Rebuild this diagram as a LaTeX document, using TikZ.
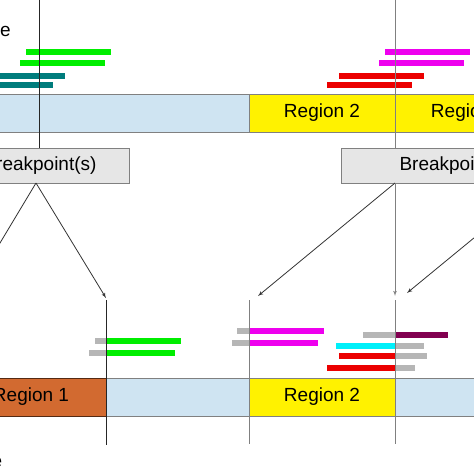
\documentclass[tikz,border=0pt]{standalone}
\usepackage{fontspec}
\setmainfont{Liberation Sans}
\usetikzlibrary{positioning}
\usetikzlibrary{shapes,arrows}
\definecolor{bandblue}{RGB}{207,228,242}
\definecolor{regionbrown}{RGB}{210,106,48}
\definecolor{readgreen}{RGB}{0,238,0}
\definecolor{readteal}{RGB}{0,124,124}
\definecolor{readmagenta}{RGB}{238,0,238}
\definecolor{readred}{RGB}{235,0,0}
\definecolor{readcyan}{RGB}{0,240,250}
\definecolor{readpurple}{RGB}{130,0,80}
\definecolor{readgray}{RGB}{182,182,182}
\definecolor{boxgray}{RGB}{230,230,230}
\tikzset{
block/.style = {draw=gray, rectangle, inner sep=0pt, outer sep=0pt, minimum height=38pt, font=\fontsize{19}{22}\selectfont},
bpblock/.style = {draw=gray, fill=boxgray, rectangle, inner sep=0pt, outer sep=0pt, minimum height=35pt, font=\fontsize{19}{22}\selectfont},
tmp/.style = {coordinate},
link/.style = {draw=black!80, line width=0.8pt, ->}
}

\begin{document}
\begin{tikzpicture}[x=1pt, y=-1pt, >=latex']
    \path [use as bounding box, clip] (0,0) rectangle (474,474);

    % We start by placing the two bands of regions
    \node [block, fill=bandblue, anchor=north west, minimum width=260pt] (topA) at (-11,94) {};
    \node [block, fill=yellow, minimum width=146pt, right=0pt of topA] (topB) {Region 2};
    \node [block, fill=yellow, minimum width=148pt, right=0pt of topB] (topC) {Region 3};

    \node [block, fill=regionbrown, draw=black!60!regionbrown, anchor=north west, minimum width=150pt] (botA) at (-44,378) {Region 1};
    \node [block, fill=bandblue, minimum width=143pt, right=0pt of botA] (botB) {};
    \node [block, fill=yellow, minimum width=146pt, right=0pt of botB] (botC) {Region 2};
    \node [block, fill=bandblue, minimum width=85pt, right=0pt of botC] (botD) {};

    \node [anchor=base east, inner sep=0pt, font=\fontsize{19}{22}\selectfont] (lblTop) at (11,36) {e};
    \node [anchor=base east, inner sep=0pt, font=\fontsize{19}{22}\selectfont] (lblBot) at (2.5,467) {e};

    % reads above the top band
    \foreach \xa/\xb/\ya in {26/111/49, 20/105/60}
        \fill [readgreen] (\xa,\ya) rectangle (\xb,\ya+5.5);
    \foreach \xa/\xb/\ya in {-5/65/73, -5/53/82}
        \fill [readteal] (\xa,\ya) rectangle (\xb,\ya+5.5);
    \foreach \xa/\xb/\ya in {385/470/49, 379/464/60}
        \fill [readmagenta] (\xa,\ya) rectangle (\xb,\ya+5.5);
    \foreach \xa/\xb/\ya in {339/424/73, 327/412/82}
        \fill [readred] (\xa,\ya) rectangle (\xb,\ya+5.5);

    % split reads above the bottom band
    \foreach \xa/\xm/\xb/\ya in {95/106/181/338, 89/106/175/350} {
        \fill [readgray] (\xa,\ya) rectangle (\xm,\ya+6);
        \fill [readgreen] (\xm,\ya) rectangle (\xb,\ya+6);
    }
    \foreach \xa/\xm/\xb/\ya in {237/249/324/328, 232/249/318/340} {
        \fill [readgray] (\xa,\ya) rectangle (\xm,\ya+6);
        \fill [readmagenta] (\xm,\ya) rectangle (\xb,\ya+6);
    }
    \fill [readgray] (363,332) rectangle (395,338);
    \fill [readpurple] (395,332) rectangle (448,338);
    \fill [readcyan] (336,343) rectangle (395,349);
    \fill [readgray] (395,343) rectangle (424,349);
    \foreach \xa/\xb/\ya in {339/427/353, 327/415/365} {
        \fill [readred] (\xa,\ya) rectangle (395,\ya+6);
        \fill [readgray] (395,\ya) rectangle (\xb,\ya+6);
    }

    % breakpoint boxes
    \node [bpblock, minimum width=178pt] (bpL) at (40,165.5) {Breakpoint(s)};
    \node [bpblock, minimum width=230pt] (bpR) at (456,165.5) {Breakpoint(s)};

    % cut lines
    \node [tmp] (cL) at (39,-5) {};
    \node [tmp] (cR) at (395,-5) {};
    \draw [black!85, line width=0.8pt] (cL) -- (cL |- bpL.north);
    \draw [gray, line width=0.8pt] (cR) -- (cR |- bpR.north);

    \node [tmp] (dA) at (106,300) {};
    \node [tmp] (dB) at (249,300) {};
    \node [tmp] (dC) at (395,300) {};
    \draw [black!85, line width=0.8pt] (dA) -- ++(0,145);
    \draw [gray, line width=0.8pt] (dB) -- ++(0,144);
    \draw [gray, line width=0.8pt] (dC) -- ++(0,144);

    % arrows from the breakpoints to the cuts
    \node [tmp] (sL) at (36,183) {};
    \node [tmp] (sR) at (bpR.south -| cR) {};
    \node [tmp] (tOut) at (-18,273) {};
    \node [tmp] (tA) at (106,298) {};
    \node [tmp] (tB) at (258,296) {};
    \node [tmp] (tC) at (395,296) {};
    \node [tmp] (tD) at (407,293) {};
    \node [tmp] (sOut) at (514,205) {};

    \draw [link] (sL) -- (tOut);
    \draw [link] (sL) -- (tA);
    \draw [link] (sR) -- (tB);
    \draw [link, draw=gray] (sR) -- (tC);
    \draw [link] (sOut) -- (tD);
\end{tikzpicture}
\end{document}
